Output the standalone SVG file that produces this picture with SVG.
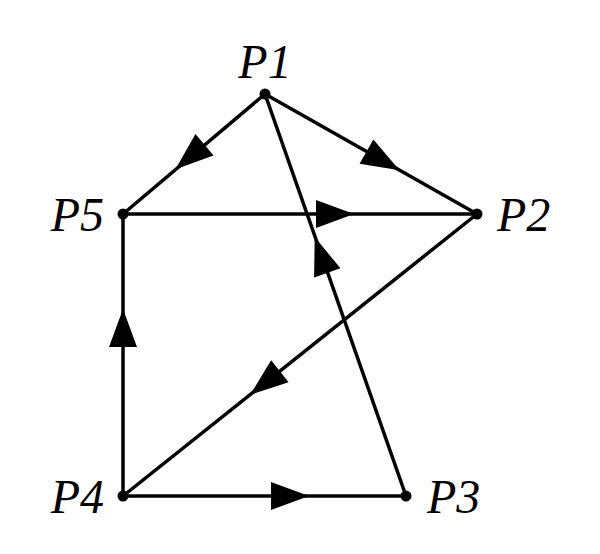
<svg xmlns="http://www.w3.org/2000/svg" xmlns:xlink="http://www.w3.org/1999/xlink" width="600" height="554" viewBox="0 0 600 554">
<style>
.e{stroke:#000;stroke-width:3.5;fill:none}
.l{font-family:"Liberation Serif",serif;font-style:italic;font-size:48px;fill:#000}
</style>
<defs><polygon id="arr" points="19,0 -19,-14 -19,14" fill="#000"/></defs>
<rect width="600" height="554" fill="#fff"/>
<g id="connectors">
<line class="e" x1="265" y1="94" x2="123" y2="214"/>
<line class="e" x1="265" y1="94" x2="477" y2="214"/>
<line class="e" x1="123" y1="214" x2="477" y2="214"/>
<line class="e" x1="406" y1="496" x2="265" y2="94"/>
<line class="e" x1="477" y1="214" x2="123" y2="496"/>
<line class="e" x1="123" y1="496" x2="123" y2="214"/>
<line class="e" x1="123" y1="496" x2="406" y2="496"/>
<use xlink:href="#arr" transform="translate(190,157) rotate(139.8)"/>
<use xlink:href="#arr" transform="translate(383,161) rotate(29.5)"/>
<use xlink:href="#arr" transform="translate(335,214)"/>
<use xlink:href="#arr" transform="translate(321,255) rotate(-109.3)"/>
<use xlink:href="#arr" transform="translate(265,383) rotate(141.5)"/>
<use xlink:href="#arr" transform="translate(123,328) rotate(-90)"/>
<use xlink:href="#arr" transform="translate(290,496)"/>
</g>
<g id="P1"><circle cx="265" cy="94" r="5.5"/><text class="l" x="265" y="78" text-anchor="middle">P1</text></g>
<g id="P2"><circle cx="477" cy="214" r="5.5"/><text class="l" x="497" y="231">P2</text></g>
<g id="P3"><circle cx="406" cy="496" r="5.5"/><text class="l" x="427" y="513">P3</text></g>
<g id="P4"><circle cx="123" cy="496" r="5.5"/><text class="l" x="104" y="513" text-anchor="end">P4</text></g>
<g id="P5"><circle cx="123" cy="214" r="5.5"/><text class="l" x="104" y="231" text-anchor="end">P5</text></g>
</svg>
